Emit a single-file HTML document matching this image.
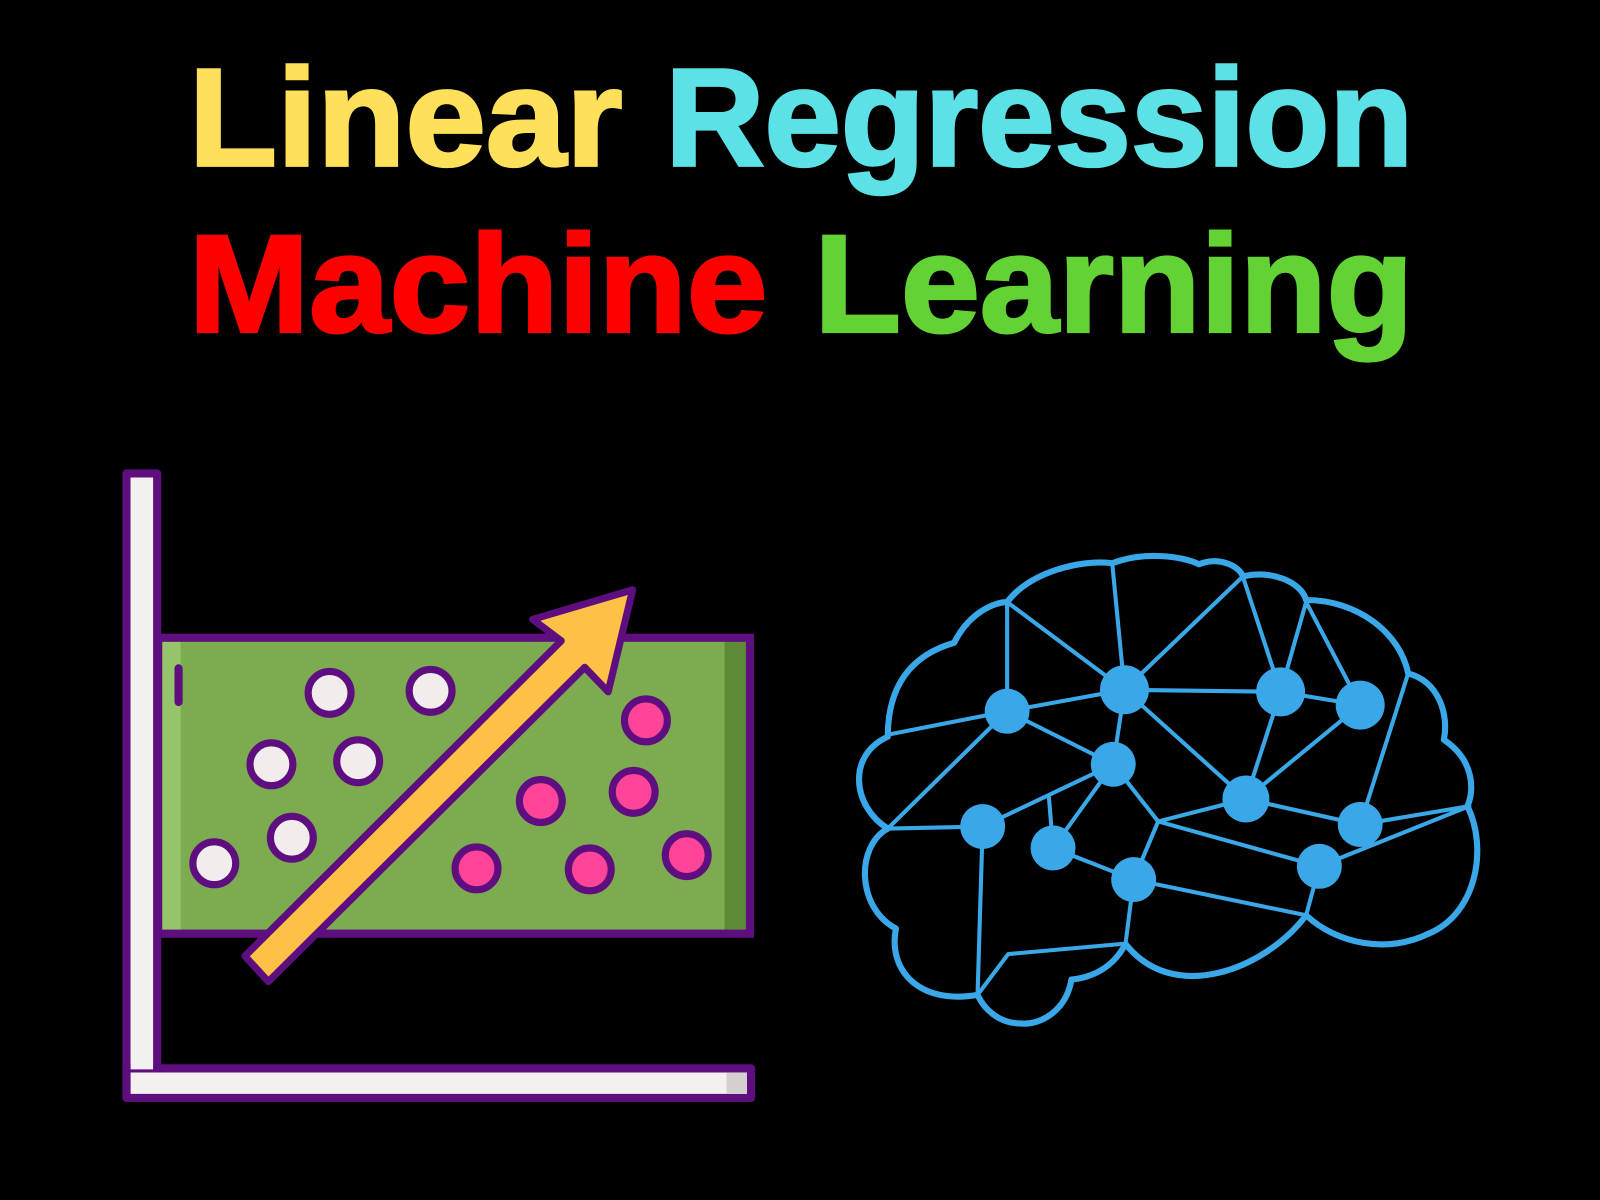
<!DOCTYPE html>
<html><head><meta charset="utf-8"><style>html,body{margin:0;padding:0;background:#000;width:1600px;height:1200px;overflow:hidden}</style></head>
<body>
<svg width="1600" height="1200" viewBox="0 0 1568 1176" xmlns="http://www.w3.org/2000/svg">
<rect width="1568" height="1176" fill="#000"/>
<g font-family="Liberation Sans, sans-serif" font-weight="bold" font-size="136" stroke-width="3">
<text x="185" y="162" textLength="425" lengthAdjust="spacingAndGlyphs" fill="#FFE05A" stroke="#FFE05A">Linear</text>
<text x="652" y="162" textLength="733" lengthAdjust="spacingAndGlyphs" fill="#5CE1E6" stroke="#5CE1E6">Regression</text>
<text x="185" y="325" textLength="567" lengthAdjust="spacingAndGlyphs" fill="#FF0000" stroke="#FF0000">Machine</text>
<text x="798" y="325" textLength="587" lengthAdjust="spacingAndGlyphs" fill="#62D235" stroke="#62D235">Learning</text>
</g>
<!-- chart -->
<g stroke="#5E0E7E" stroke-width="8" stroke-linejoin="round">
<rect x="124" y="464" width="30" height="612" fill="#F5F0F0"/>
<rect x="124" y="1047" width="612" height="29" fill="#F5F0F0"/>
</g>
<rect x="712" y="1051" width="20" height="21" fill="#D6CFCF"/>
<rect x="128" y="468" width="22" height="580" fill="#F5F0F0"/>
<rect x="155" y="625" width="580" height="290" fill="#7DAB50"/>
<rect x="155" y="625" width="22" height="290" fill="#96C46A"/>
<rect x="710" y="625" width="25" height="290" fill="#5B8C35"/>
<rect x="155" y="625" width="580" height="290" fill="none" stroke="#5E0E7E" stroke-width="8"/>
<line x1="175" y1="655" x2="175" y2="688" stroke="#5E0E7E" stroke-width="8" stroke-linecap="round"/>
<g stroke="#5E0E7E" stroke-width="7" fill="#F2ECEC">
<circle cx="323" cy="679" r="21"/><circle cx="422" cy="677" r="21"/><circle cx="266" cy="749" r="21"/>
<circle cx="351" cy="746" r="21"/><circle cx="286" cy="821" r="21"/><circle cx="210" cy="846" r="21"/>
</g>
<g stroke="#5E0E7E" stroke-width="7" fill="#FF4499">
<circle cx="633" cy="706" r="21"/><circle cx="530" cy="785" r="21"/><circle cx="621" cy="776" r="21"/>
<circle cx="467" cy="851" r="21"/><circle cx="578" cy="852" r="21"/><circle cx="673" cy="838" r="21"/>
</g>
<polygon points="240,937 550,628 522,607 620,578 596,678 573,654 263,962" fill="#FFC145" stroke="#5E0E7E" stroke-width="7" stroke-linejoin="round"/>
<!-- brain -->
<g stroke="#3AA8E8" fill="none" stroke-linecap="round" stroke-linejoin="round">
<path stroke-width="6" d="M958 975 C900 985 870 950 878 910 C840 890 838 830 870 812 C835 790 830 740 870 722 C870 665 900 640 935 630 C950 600 975 590 987 590 C1010 560 1060 548 1090 552 C1120 540 1160 545 1175 553 C1195 545 1215 555 1218 565 C1245 558 1275 570 1280 588 C1330 588 1372 620 1380 660 C1410 668 1420 700 1415 725 C1445 745 1445 775 1438 790 C1458 830 1448 895 1400 915 C1360 935 1310 925 1280 897 C1240 950 1150 985 1103 925 C1090 950 1068 958 1050 960 C1045 990 1020 1005 1000 1003 C980 1003 965 990 958 975 Z"/>
<g stroke-width="4">
<path d="M987 590 L987 697 M987 590 L1102 676 M1090 552 L1102 676 M1218 565 L1102 676 M1218 565 L1255 678 M1280 590 L1255 678 M1280 590 L1333 691 M1380 660 L1333 808 M870 720 L987 697 L1102 676 L1255 678 L1333 691 M987 697 L1091 749 L1102 676 L1221 783 L1255 678 M1333 691 L1221 783 M987 697 L870 812 L963 810 L1091 749 L1032 831 M1091 749 L1135 805 M1028 782 L1032 831 L1111 862 M1221 783 L1135 805 M1221 783 L1333 808 M1135 805 L1293 849 M1135 805 L1111 862 L1280 897 M1293 849 L1440 790 L1333 808 M963 810 L958 975 L988 935 L1100 925 M1111 862 L1103 925 M1280 897 L1293 849"/>
</g>
</g>
<g fill="#3AA8E8">
<circle cx="987" cy="697" r="22"/><circle cx="1102" cy="676" r="24"/><circle cx="1255" cy="678" r="24"/>
<circle cx="1333" cy="691" r="24"/><circle cx="1091" cy="749" r="22"/><circle cx="1221" cy="783" r="23"/>
<circle cx="963" cy="810" r="22"/><circle cx="1032" cy="831" r="22"/><circle cx="1111" cy="862" r="22"/>
<circle cx="1333" cy="808" r="22"/><circle cx="1293" cy="849" r="22"/>
</g>
</svg>
</body></html>
